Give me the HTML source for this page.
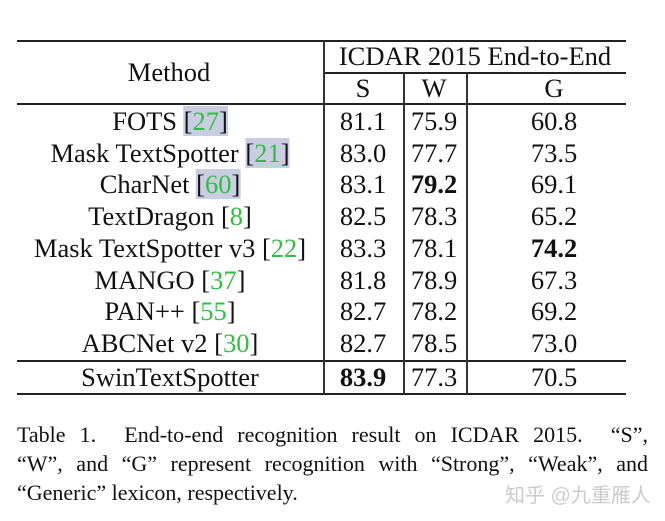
<!DOCTYPE html>
<html><head><meta charset="utf-8"><style>
body{margin:0;background:#fff;width:665px;height:521px;overflow:hidden;position:relative;font-family:"Liberation Serif","Noto Serif CJK SC",serif;color:#111}
.h{position:absolute;height:2px;background:#222}
.v{position:absolute;width:2px;background:#333}
.t{position:absolute;font-size:26.5px;line-height:30px;white-space:nowrap;transform:translateX(-50%)}
.c{color:#2fbf3f}
.hl{background:#c9cde2}
.b{font-weight:bold}
.cap{position:absolute;left:17px;width:631px;font-size:22px;line-height:29px;text-align:justify;text-align-last:justify}
.wm{position:absolute;left:505px;top:479px;font-family:"Liberation Sans","Noto Sans CJK SC",sans-serif;font-size:20px;color:#ccc}
</style></head><body>
<div class="h" style="left:17px;top:40px;width:609px"></div>
<div class="h" style="left:324px;top:72px;width:302px;height:1.5px"></div>
<div class="h" style="left:17px;top:103px;width:609px"></div>
<div class="h" style="left:17px;top:360px;width:609px;height:1.5px"></div>
<div class="h" style="left:17px;top:393px;width:609px"></div>
<div class="v" style="left:323px;top:41px;height:353px"></div>
<div class="v" style="left:403px;top:73px;height:321px;width:1.5px"></div>
<div class="v" style="left:466px;top:73px;height:321px;width:1.5px"></div>

<div class="t" style="left:169px;top:57px">Method</div>
<div class="t" style="left:475px;top:41px">ICDAR 2015 End-to-End</div>
<div class="t" style="left:363px;top:73px">S</div>
<div class="t" style="left:434px;top:73px">W</div>
<div class="t" style="left:554px;top:73px">G</div>

<div id="rows"></div>

<div class="cap" style="top:420px">Table 1. &nbsp;End-to-end recognition result on ICDAR 2015. &nbsp;“S”,</div>
<div class="cap" style="top:449px">“W”, and “G” represent recognition with “Strong”, “Weak”, and</div>
<div class="cap" style="top:478px;text-align-last:left">“Generic” lexicon, respectively.</div>
<div class="wm">知乎 @九重雁人</div>

<script>
const methods=["FOTS","Mask TextSpotter","CharNet","TextDragon","Mask TextSpotter v3","MANGO","PAN++","ABCNet v2","SwinTextSpotter"];
const cites=["27","21","60","8","22","37","55","30",""];
const highlighted=[true,true,true,false,false,false,false,false,false];
const sVals=["81.1","83.0","83.1","82.5","83.3","81.8","82.7","82.7","83.9"];
const wVals=["75.9","77.7","79.2","78.3","78.1","78.9","78.2","78.5","77.3"];
const gVals=["60.8","73.5","69.1","65.2","74.2","67.3","69.2","73.0","70.5"];
const boldS=8, boldW=2, boldG=4;
const host=document.getElementById('rows');
function cell(x,y,html,name,bold){
  const d=document.createElement('div');
  d.className='t'+(bold?' b':'');
  d.style.left=x+'px';d.style.top=y+'px';d.innerHTML=html;
  
  
  host.appendChild(d);
}
methods.forEach((m,i)=>{
  const y = i<8 ? 106+i*31.7 : 362;
  let html=m;
  if(cites[i]) html+=' <span class="'+(highlighted[i]?'hl':'')+'">[<span class="c">'+cites[i]+'</span>]</span>';
  cell(170,y,html,'method-'+(i+1),false);
  cell(363,y,sVals[i],'s-value-'+(i+1),i===boldS);
  cell(434,y,wVals[i],'w-value-'+(i+1),i===boldW);
  cell(554,y,gVals[i],'g-value-'+(i+1),i===boldG);
});
</script>
</body></html>
